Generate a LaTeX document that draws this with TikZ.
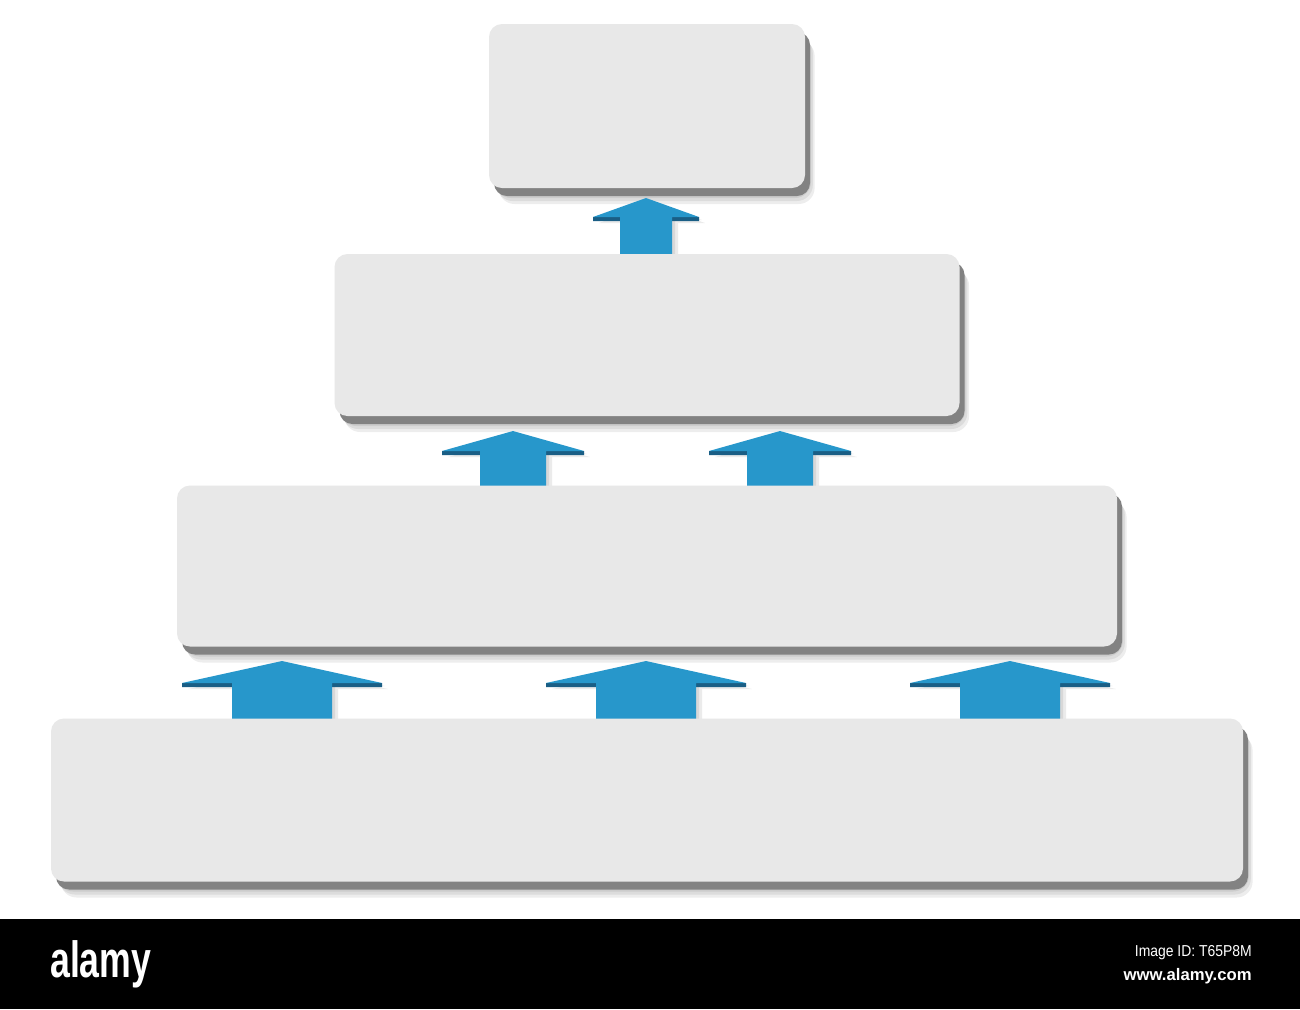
\documentclass[tikz,border=0pt]{standalone}
\usepackage{fontspec}
\setmainfont{Liberation Sans}
\usetikzlibrary{positioning}
\definecolor{facegray}{HTML}{E8E8E8}
\definecolor{sidegray}{HTML}{828282}
\definecolor{arrowblue}{HTML}{2797CB}
\definecolor{arrowdark}{HTML}{1A5E85}

% one tier: soft shadow, grey side, light face
\newcommand{\tierbox}[5]{%
  \foreach \s in {16,13,10}
    \node[tiershade, minimum width=#4*0.02cm, minimum height=#5*0.02cm] at (#2+\s*0.6,#3+\s) {};
  \node[tierside, minimum width=#4*0.02cm, minimum height=#5*0.02cm] at (#2+5,#3+8) {};
  \node[tier, minimum width=#4*0.02cm, minimum height=#5*0.02cm] (#1) at (#2,#3) {};
}
% block arrow: centre x, tip y, wing y, half head, half shaft, foot y
\newcommand{\blockarrow}[6]{%
  \foreach \s in {3,6}
    \fill[black, opacity=0.08, shift={(#1+\s,\s)}]
      (-#5,#6) -- (-#5,#3) -- (-#4,#3) -- (0,#2) -- (#4,#3) -- (#5,#3) -- (#5,#6) -- cycle;
  \fill[arrowdark, shift={(#1,0)}] (-#4,#3) rectangle (-#5,#3+4) (#5,#3) rectangle (#4,#3+4);
  \fill[arrowblue, shift={(#1,0)}]
    (-#5,#6) -- (-#5,#3) -- (-#4,#3) -- (0,#2) -- (#4,#3) -- (#5,#3) -- (#5,#6) -- cycle;
}

\begin{document}
\begin{tikzpicture}[
        x=0.02cm, y=-0.02cm,
        tier/.style={rectangle, rounded corners=0.26cm, fill=facegray, inner sep=0pt},
        tierside/.style={rectangle, rounded corners=0.26cm, fill=sidegray, inner sep=0pt},
        tiershade/.style={rectangle, rounded corners=0.32cm, fill=black, opacity=0.07, inner sep=0pt},
        band/.style={text=white, inner sep=0pt}
        ]
        \useasboundingbox (0,0) rectangle (1300,1009);
        \fill[white] (0,0) rectangle (1300,919);

        % top tier and its arrow
        \tierbox{top}{647}{106}{316}{164}
        \blockarrow{646}{198}{217}{53}{26}{256}

        % second tier
        \tierbox{second}{647}{335}{625}{162}
        \blockarrow{513}{431}{451}{71}{33}{488}
        \blockarrow{780}{431}{451}{71}{33}{488}

        % third tier
        \tierbox{third}{647}{566}{940}{161}
        \blockarrow{282}{661}{683}{100}{50}{721}
        \blockarrow{646}{661}{683}{100}{50}{721}
        \blockarrow{1010}{661}{683}{100}{50}{721}

        % base tier
        \tierbox{base}{647}{800}{1192}{163}

        % footer
        \fill[black] (0,919) rectangle (1300,1009);
        \node[band, font=\bfseries\fontsize{29}{29}\selectfont, xscale=0.7, anchor=base west] (logo) at (50,977) {alamy};
        \node[band, font=\fontsize{9}{9}\selectfont, xscale=0.88, anchor=base east] (imageid) at (1252,956) {Image ID: T65P8M};
        \node[band, font=\bfseries\fontsize{9.5}{9.5}\selectfont, anchor=base east] (site) at (1252,980) {www.alamy.com};
    \end{tikzpicture}
\end{document}
